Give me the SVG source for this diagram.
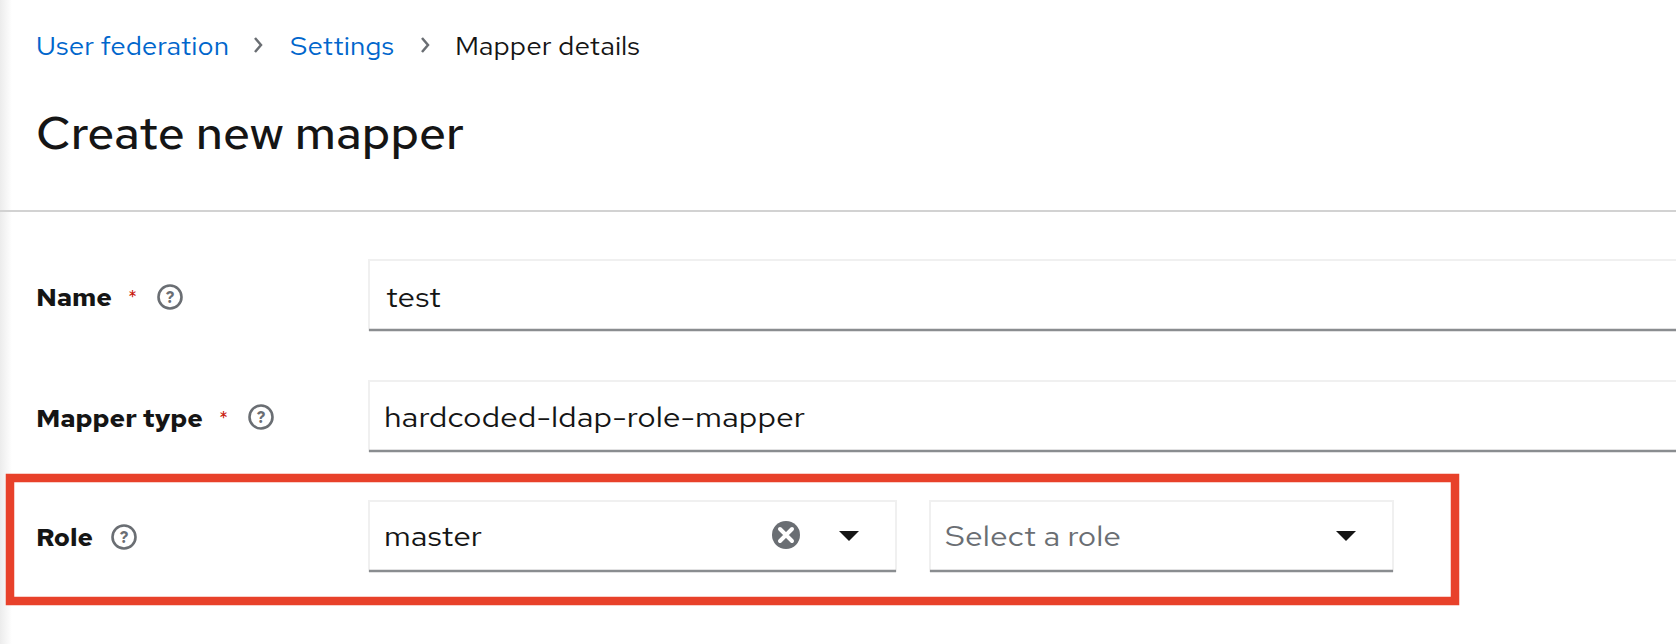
<svg xmlns="http://www.w3.org/2000/svg" width="1676" height="644" viewBox="0 0 1676 644">
<defs>
<linearGradient id="lg" x1="0" x2="1" y1="0" y2="0"><stop offset="0" stop-color="#ececec"/><stop offset="1" stop-color="#ffffff"/></linearGradient>
<style>
text{font-family:"Red Hat Text","Open Sans","Liberation Sans",sans-serif}
.bc{font-size:26px}
.lbl{font-size:24px;font-weight:bold;fill:#151515}
.val{font-size:28px;fill:#151515}
.inp{fill:#fff;stroke:#f0f0f0;stroke-width:2}
.ul{stroke:#8a8d90;stroke-width:2.5}
.help{fill:none;stroke:#6a6e73;stroke-width:2.6}
.q{font-size:16px;font-weight:bold;fill:#6a6e73;text-anchor:middle}
.ast{fill:#c9190b;font-size:20px}
</style>
</defs>
<rect width="1676" height="644" fill="#fff"/>
<rect width="12" height="644" fill="url(#lg)"/>
<g id="breadcrumb">
<text class="bc" x="36" y="55" fill="#0066cc" textLength="193" lengthAdjust="spacingAndGlyphs">User federation</text>
<path d="M255 38 l6 7 l-6 7" fill="none" stroke="#6a6e73" stroke-width="2.5"/>
<text class="bc" x="290" y="55" fill="#0066cc" textLength="104" lengthAdjust="spacingAndGlyphs">Settings</text>
<path d="M422 38 l6 7 l-6 7" fill="none" stroke="#6a6e73" stroke-width="2.5"/>
<text class="bc" x="455" y="55" fill="#151515" textLength="185" lengthAdjust="spacingAndGlyphs">Mapper details</text>
</g>
<text id="title" x="36" y="149" font-size="46" font-weight="500" fill="#151515" textLength="428" lengthAdjust="spacingAndGlyphs">Create new mapper</text>
<line x1="0" y1="211" x2="1676" y2="211" stroke="#d2d2d2" stroke-width="2"/>
<g id="name">
<text class="lbl" x="36" y="306" textLength="76" lengthAdjust="spacingAndGlyphs">Name</text>
<text class="ast" x="128" y="304">*</text>
<circle class="help" cx="170" cy="297" r="11.5"/><text class="q" x="170" y="303">?</text>
<rect class="inp" x="369" y="260" width="1320" height="70"/>
<line class="ul" x1="369" y1="330" x2="1676" y2="330"/>
<text class="val" x="386" y="307" textLength="55" lengthAdjust="spacingAndGlyphs">test</text>
</g>
<g id="mappertype">
<text class="lbl" x="36" y="427" textLength="167" lengthAdjust="spacingAndGlyphs">Mapper type</text>
<text class="ast" x="219" y="425">*</text>
<circle class="help" cx="261" cy="417" r="11.5"/><text class="q" x="261" y="423">?</text>
<rect class="inp" x="369" y="381" width="1320" height="70"/>
<line class="ul" x1="369" y1="451" x2="1676" y2="451"/>
<text class="val" x="384" y="427" textLength="421" lengthAdjust="spacingAndGlyphs">hardcoded-ldap-role-mapper</text>
</g>
<g id="role">
<text class="lbl" x="36" y="546" textLength="57" lengthAdjust="spacingAndGlyphs">Role</text>
<circle class="help" cx="124" cy="537" r="11.5"/><text class="q" x="124" y="543">?</text>
<rect class="inp" x="369" y="501" width="527" height="70"/>
<line class="ul" x1="369" y1="571" x2="896" y2="571"/>
<text class="val" x="384" y="546" textLength="98" lengthAdjust="spacingAndGlyphs">master</text>
<circle cx="786" cy="535" r="14" fill="#6a6e73"/>
<path d="M780 529 l12 12 M792 529 l-12 12" stroke="#fff" stroke-width="4" stroke-linecap="round"/>
<path d="M839 531 h20 l-10 10 z" fill="#151515"/>
<rect class="inp" x="930" y="501" width="463" height="70"/>
<line class="ul" x1="930" y1="571" x2="1393" y2="571"/>
<text class="val" x="945" y="546" style="fill:#6a6e73" textLength="176" lengthAdjust="spacingAndGlyphs">Select a role</text>
<path d="M1336 531 h20 l-10 10 z" fill="#151515"/>
</g>
<rect id="highlight" x="10" y="478" width="1445" height="123" fill="none" stroke="#e8412a" stroke-width="8.5"/>
</svg>
